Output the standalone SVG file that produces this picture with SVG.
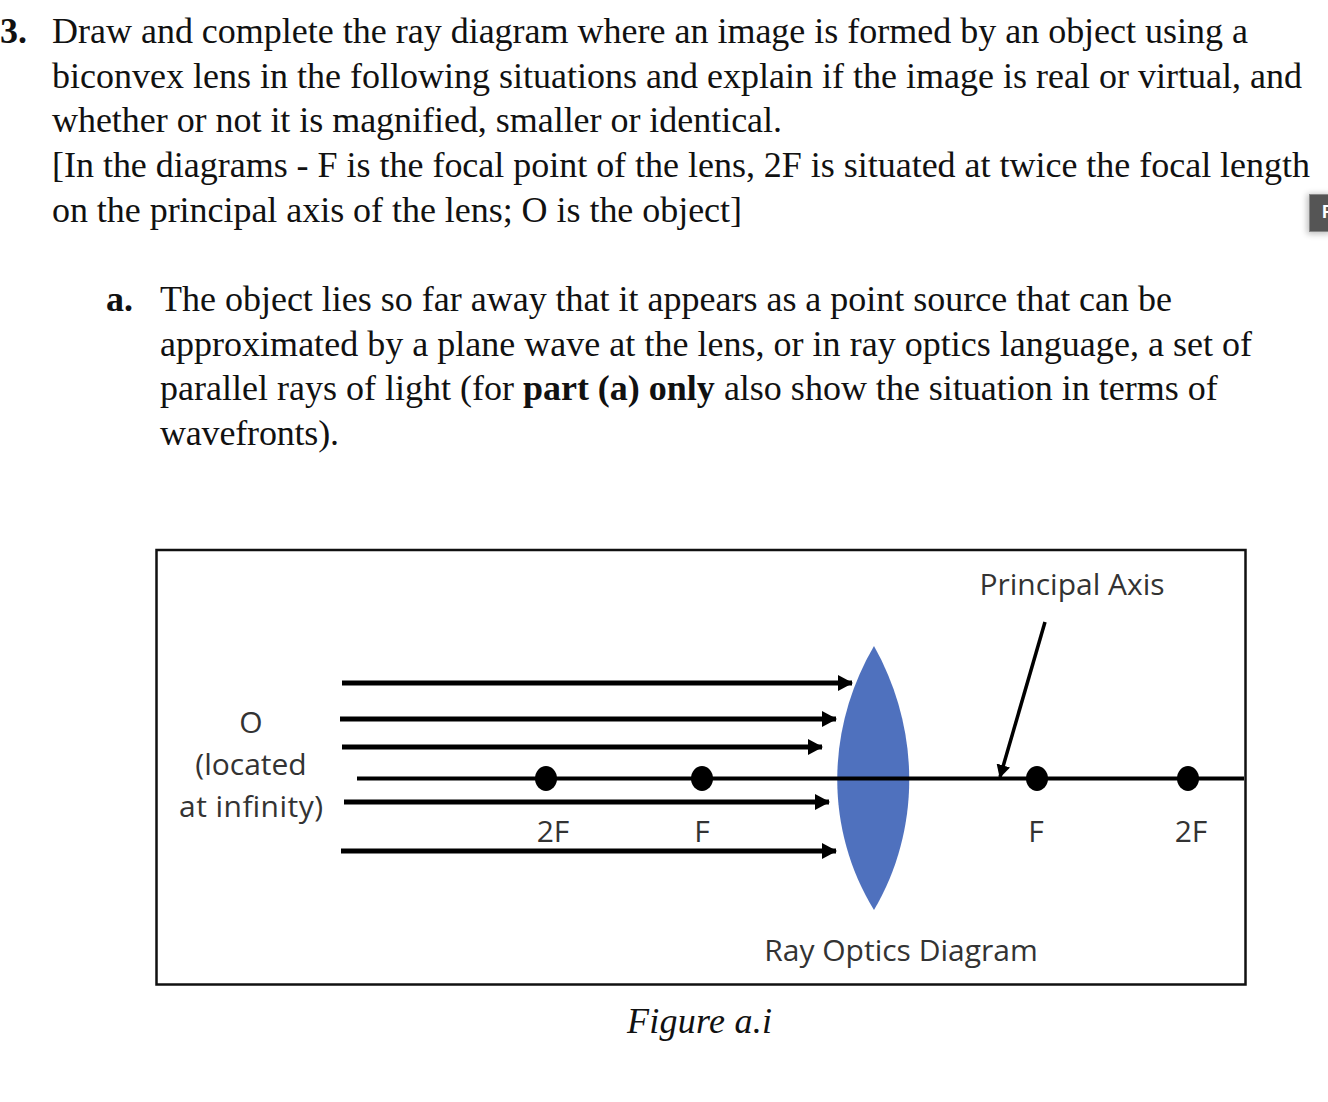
<svg xmlns="http://www.w3.org/2000/svg" width="1328" height="1102" viewBox="0 0 1328 1102">
<style>
.t{font-family:"Liberation Serif",serif;font-size:36px;fill:#111}
.d{font-family:"Open Sans","Noto Sans",sans-serif;font-size:30px;fill:#333}
.b{font-weight:bold}
.r{stroke:#000;stroke-width:5;fill:none;marker-end:url(#a)}
.p{stroke:#000;stroke-width:3.500;fill:none;marker-end:url(#c)}
</style>
<defs>
<marker id="a" markerUnits="userSpaceOnUse" markerWidth="15" markerHeight="16" refX="14" refY="8" orient="auto"><path d="M0 0L15 8L0 16Z"/></marker>
<marker id="c" markerUnits="userSpaceOnUse" markerWidth="13" markerHeight="14" refX="12" refY="7" orient="auto"><path d="M0 0L13 7L0 14Z"/></marker>
<filter id="s" x="-50%" y="-50%" width="200%" height="200%"><feGaussianBlur stdDeviation="3"/></filter>
</defs>
<rect width="1328" height="1102" fill="#fff"/>
<g id="text">
<text class="t b" x="0" y="43">3.</text>
<text class="t" x="52" y="43" textLength="1196">Draw and complete the ray diagram where an image is formed by an object using a</text>
<text class="t" x="52" y="88" textLength="1250">biconvex lens in the following situations and explain if the image is real or virtual, and</text>
<text class="t" x="52" y="132" textLength="730">whether or not it is magnified, smaller or identical.</text>
<text class="t" x="52" y="177" textLength="1258">[In the diagrams - F is the focal point of the lens, 2F is situated at twice the focal length</text>
<text class="t" x="52" y="222" textLength="690">on the principal axis of the lens; O is the object]</text>
<text class="t b" x="106" y="311">a.</text>
<text class="t" x="160" y="311" textLength="1012">The object lies so far away that it appears as a point source that can be</text>
<text class="t" x="160" y="356" textLength="1092">approximated by a plane wave at the lens, or in ray optics language, a set of</text>
<text class="t" x="160" y="400">parallel rays of light (for <tspan class="b">part (a) only</tspan> also show the situation in terms of</text>
<text class="t" x="160" y="445" textLength="179">wavefronts).</text>
</g>
<g id="frame"><rect x="156.500" y="550" width="1089" height="434.500" fill="none" stroke="#111" stroke-width="2.500"/></g>
<g id="lens"><path d="M874 646C921 730 921 830 874 910C825 830 825 730 874 646Z" fill="#4f71be"/></g>
<g id="connectors">
<path class="r" d="M342 683H852"/>
<path class="r" d="M340 719H836"/>
<path class="r" d="M342 747H822"/>
<path class="r" d="M344 802H829"/>
<path class="r" d="M341 851H836"/>
<path d="M357 778.500H1244" stroke="#000" stroke-width="4" fill="none"/>
<path class="p" d="M1045 622L1000 777"/>
</g>
<g id="points">
<ellipse cx="546" cy="778.500" rx="11" ry="12.500"/><ellipse cx="702" cy="778.500" rx="11" ry="12.500"/><ellipse cx="1037" cy="778.500" rx="11" ry="12.500"/><ellipse cx="1188" cy="778.500" rx="11" ry="12.500"/>
</g>
<g id="labels">
<text class="d" x="251" y="733" text-anchor="middle">O</text>
<text class="d" x="251" y="775" text-anchor="middle">(located</text>
<text class="d" x="179" y="817" textLength="144">at infinity)</text>
<text class="d" x="553" y="842" text-anchor="middle">2F</text>
<text class="d" x="702" y="842" text-anchor="middle">F</text>
<text class="d" x="1036" y="842" text-anchor="middle">F</text>
<text class="d" x="1191" y="842" text-anchor="middle">2F</text>
<text class="d" x="1072" y="595" text-anchor="middle">Principal Axis</text>
<text class="d" x="901" y="961" text-anchor="middle">Ray Optics Diagram</text>
<text class="t" x="627" y="1033" textLength="145" style="font-style:italic">Figure a.i</text>
</g>
<g id="tab"><rect x="1307" y="194" width="24" height="40" fill="#000" opacity="0.25" filter="url(#s)"/><rect x="1309.500" y="194.500" width="20" height="37" fill="#555" stroke="#888"/><text x="1322" y="218" font-family="Liberation Sans,sans-serif" font-size="18" font-weight="bold" fill="#fff">F</text></g>
</svg>
